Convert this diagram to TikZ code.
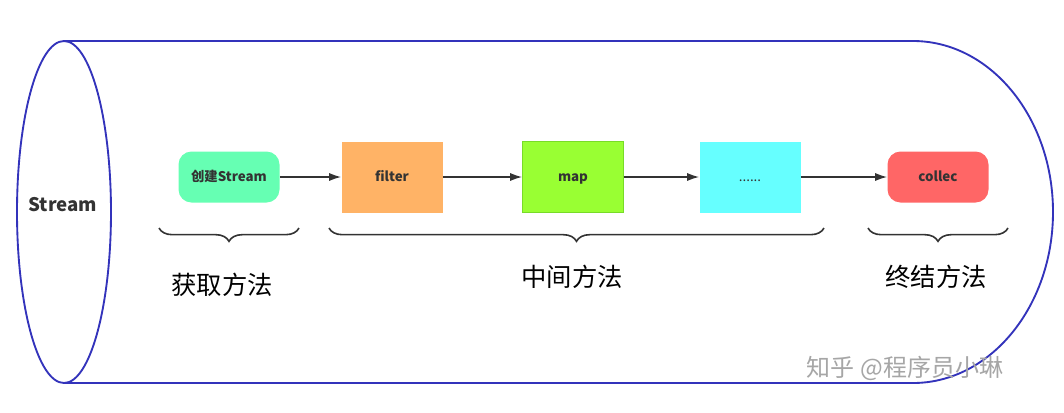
\documentclass[tikz,border=0pt]{standalone}
\usepackage{fontspec}
\setmainfont{Noto Sans CJK SC}
\usetikzlibrary{decorations.pathreplacing,arrows.meta}
\definecolor{tubeblue}{HTML}{3333BB}
\definecolor{linegray}{HTML}{333333}
\tikzset{
  stepbox/.style={minimum width=101\pxu,minimum height=71\pxu,inner sep=0pt,text height=1.6ex,text depth=0.4ex,font=\fontsize{10}{12}\selectfont\bfseries,text=linegray},
  endbox/.style={stepbox,rounded corners=13\pxu,minimum height=51\pxu},
  flow/.style={draw=linegray,line width=1.2pt,-{Latex[length=9pt,width=6pt]}},
  curly/.style={draw=linegray,line width=1.2pt,decorate,decoration={brace,mirror,amplitude=10pt}},
  groupname/.style={font=\fontsize{19}{22}\selectfont}
}
\newcommand\pxu{*0.75pt}
\begin{document}
\begin{tikzpicture}[x=0.75pt,y=-0.75pt]
\useasboundingbox (0,0) rectangle (1064,412);
\fill[white] (0,0) rectangle (1064,412);

% the tube
\draw[tubeblue,line width=1.4pt] (64,41) -- (913,41) arc (-90:90:140 and 171) -- (64,383);
\draw[tubeblue,line width=1.4pt] (64,212) ellipse (47 and 171);
\node (stream) at (63,205) {\fontsize{14}{16}\selectfont\bfseries\color{linegray}Stream};

% the steps
\node[endbox,fill={rgb,255:red,102;green,255;blue,179}] (create) at (229,177) {创建Stream};
\node[stepbox,fill={rgb,255:red,255;green,179;blue,102}] (filter) at (392,177) {filter};
\node[stepbox,fill={rgb,255:red,153;green,255;blue,51},draw={rgb,255:red,120;green,220;blue,40}] (map) at (573,177) {map};
\node[stepbox,fill={rgb,255:red,102;green,255;blue,255}] (more) at (750,177) {\mdseries ......};
\node[endbox,fill={rgb,255:red,255;green,102;blue,102}] (collect) at (938,177) {collec};

\draw[flow] (create) -- (filter);
\draw[flow] (filter) -- (map);
\draw[flow] (map) -- (more);
\draw[flow] (more) -- (collect);

% the groups
\draw[curly] (159,228) -- (299,228);
\draw[curly] (329,228) -- (824,228);
\draw[curly] (868,228) -- (1008,228);
\node[groupname] (get) at (222,285) {获取方法};
\node[groupname] (middle) at (572,277) {中间方法};
\node[groupname] (final) at (936,277) {终结方法};

\node[font=\fontsize{18}{20}\selectfont,text=black!35] (mark) at (905,368) {知乎 @程序员小琳};
\end{tikzpicture}
\end{document}
